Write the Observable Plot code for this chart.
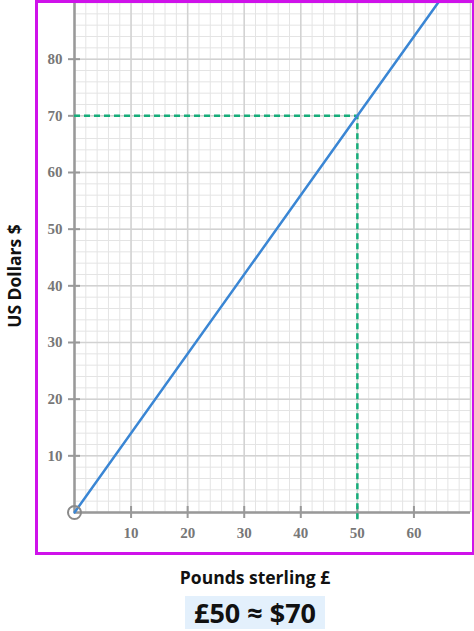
<!DOCTYPE html>
<html>
<head>
<meta charset="utf-8">
<script src="https://cdn.jsdelivr.net/npm/d3@7"></script>
<script src="https://cdn.jsdelivr.net/npm/@observablehq/plot@0.6"></script>
<style>
  html, body { margin: 0; padding: 0; background: #fff; }
  #wrap { position: relative; width: 474px; height: 631px; overflow: hidden; }
  #wrap svg { position: absolute; left: 0; top: 0; }
  #border { position: absolute; left: 35px; top: 0px; width: 434px; height: 549px; border: 3px solid #cf12ea; pointer-events: none; }
  .lbl { position: absolute; font-family: "Open Sans", "Noto Sans", sans-serif; font-weight: 700; color: #111; white-space: nowrap; }
  #xlab { left: 0; width: 510px; top: 565px; text-align: center; font-size: 17.5px; }
  #ylab { left: 14px; top: 276px; font-size: 17.5px; transform: translate(-50%, -50%) rotate(-90deg); }
  #result { left: 185px; top: 596px; width: 140px; height: 33px; line-height: 33px; text-align: center; font-size: 27px; background: #e3f0fc; }
</style>
</head>
<body>
<div id="wrap">
  <div id="border"></div>
  <div class="lbl" id="xlab">Pounds sterling £</div>
  <div class="lbl" id="ylab">US Dollars $</div>
  <div class="lbl" id="result">£50 ≈ $70</div>
</div>
<script>
// Data
const pounds = [0, 50, 64.3];
const dollars = [0, 70, 90];
const xTicks = [10, 20, 30, 40, 50, 60];
const yTicks = [10, 20, 30, 40, 50, 60, 70, 80];
const readPounds = [50];
const readDollars = [70];

const linePts = pounds.map((p, i) => ({x: p, y: dollars[i]}));
const minorX = d3.range(0, 71, 2);
const minorY = d3.range(0, 91, 2);
const majorX = d3.range(0, 71, 10);
const majorY = d3.range(0, 91, 10);

const labelFont = {fontFamily: "Liberation Serif, DejaVu Serif, serif", fontWeight: "bold", fill: "#777"};

const chart = Plot.plot({
  width: 474,
  height: 631,
  marginLeft: 74,
  marginRight: 4,
  marginTop: 2,
  marginBottom: 119,
  x: {domain: [0, 70], axis: null},
  y: {domain: [0, 90], axis: null},
  style: {background: "transparent", overflow: "visible", fontSize: "15px", fontFamily: "Liberation Serif, serif"},
  marks: [
    Plot.ruleX(minorX, {stroke: "#e4e4e4", strokeWidth: 1}),
    Plot.ruleY(minorY, {stroke: "#e4e4e4", strokeWidth: 1}),
    Plot.ruleX(majorX, {stroke: "#d2d2d2", strokeWidth: 1.5}),
    Plot.ruleY(majorY, {stroke: "#d2d2d2", strokeWidth: 1.5}),
    // axis lines
    Plot.ruleY([0], {stroke: "#999", strokeWidth: 2.5}),
    Plot.ruleX([0], {stroke: "#999", strokeWidth: 2.5}),
    // crossing ticks
    Plot.axisX({ticks: xTicks, anchor: "bottom", tickSize: 12, dy: -6, text: null, label: null, stroke: "#999", strokeWidth: 2}),
    Plot.axisY({ticks: yTicks, anchor: "left", tickSize: 12, dx: 6, text: null, label: null, stroke: "#999", strokeWidth: 2}),
    // tick labels
    Plot.text(xTicks, {x: d => d, y: 0, dy: 21, text: d => String(d), ...labelFont, fontSize: 15}),
    Plot.text(yTicks, {x: 0, y: d => d, dx: -12, textAnchor: "end", text: d => String(d), ...labelFont, fontSize: 15}),
    // reading lines
    Plot.ruleY(readDollars, {x1: 0, x2: readPounds[0], stroke: "#17ad7a", strokeWidth: 2.5, strokeDasharray: "6,4"}),
    Plot.ruleX(readPounds, {y1: -1.3, y2: readDollars[0], stroke: "#17ad7a", strokeWidth: 2.5, strokeDasharray: "6,4"}),
    // conversion line
    Plot.line(linePts, {x: "x", y: "y", stroke: "#3a86d4", strokeWidth: 2.5}),
    // origin circle
    Plot.dot([{x: 0, y: 0}], {x: "x", y: "y", r: 6.5, stroke: "#8a8a8a", strokeWidth: 2, fill: "none"})
  ]
});
document.getElementById("wrap").prepend(chart);
</script>
</body>
</html>
